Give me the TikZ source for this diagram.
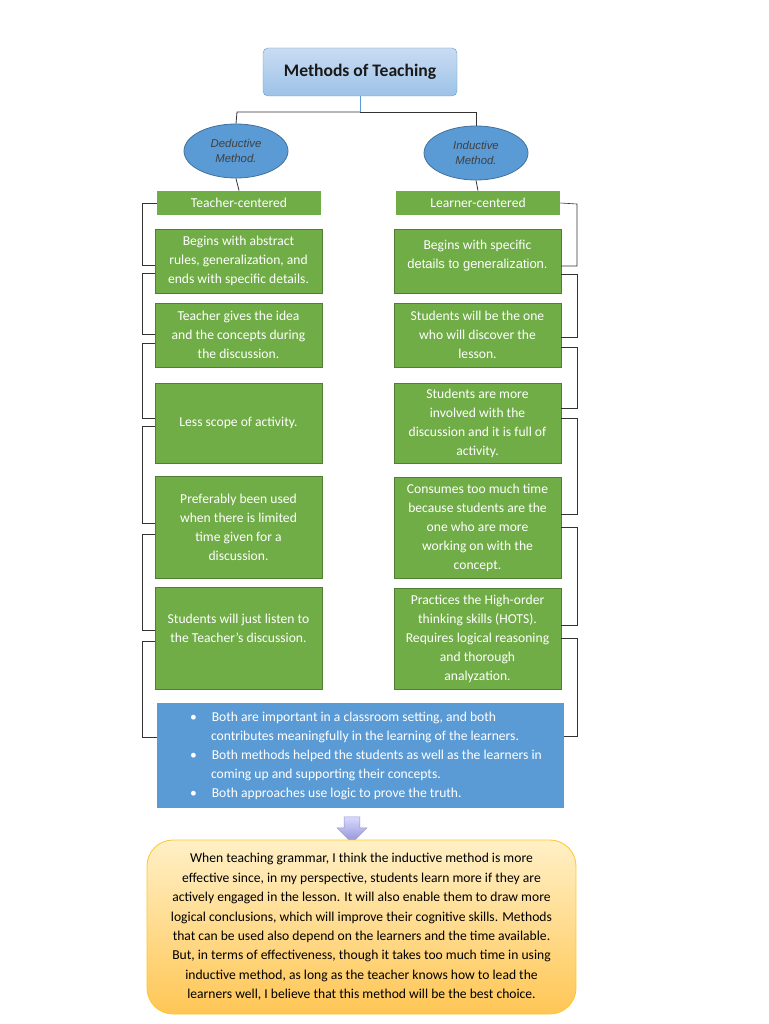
\documentclass[tikz,border=0pt]{standalone}
\usepackage{fontspec}
\setmainfont{Carlito}
\newfontfamily\arialf{Liberation Sans}
\usetikzlibrary{shapes.geometric,shapes.arrows}
\definecolor{gfill}{HTML}{70AD47}
\definecolor{gline}{HTML}{507E32}
\definecolor{bfill}{HTML}{5B9BD5}
\definecolor{bline}{HTML}{41719C}
\definecolor{ttop}{HTML}{CADCF2}
\definecolor{tbot}{HTML}{9CC2E7}
\definecolor{otop}{HTML}{FFF0C6}
\definecolor{obot}{HTML}{FFC655}
\definecolor{oline}{HTML}{FFC629}
\tikzset{
 gbox/.style={draw=gline,fill=gfill,line width=0.8pt,text=white,align=center,inner sep=0pt,minimum width=167pt,font=\fontsize{13.6}{19}\selectfont},
 meth/.style={ellipse,draw=bline,fill=bfill,line width=0.8pt,minimum width=104pt,minimum height=54pt,inner sep=0pt,align=center,text=black!75,font=\arialf\itshape\fontsize{11.4}{15}\selectfont},
 brk/.style={draw=black!80,line width=0.6pt},
}
\begin{document}
\begin{tikzpicture}[x=1pt,y=-1pt]
\useasboundingbox (0,0) rectangle (768,1024);
\fill[white] (0,0) rectangle (768,1024);
\node[draw=bfill,rounded corners=5pt,top color=ttop,bottom color=tbot,minimum width=194pt,minimum height=48pt,inner sep=0pt,font=\bfseries\fontsize{17.6}{18}\selectfont,text=black!90] (title) at (360,72) {Methods of Teaching};
\node[meth] (ded) at (236,151) {Deductive\\Method.};
\node[meth] (ind) at (476,153) {Inductive\\Method.};
\coordinate (hub) at (360,112);
\draw[bfill,line width=0.8pt] (title.south) -- (hub);
\draw[black!80,line width=0.8pt] (hub) -- (237,112) -- (ded.north);
\draw[black!80,line width=0.8pt] (hub) -- (476,112) -- (ind.north);
\node[gbox,minimum width=164pt,minimum height=24pt,draw=none] (tc) at (239,203) {Teacher-centered};
\node[gbox,minimum width=164pt,minimum height=24pt,draw=none] (lc) at (478,203) {Learner-centered};
\draw[black!80,line width=0.8pt] (ded.south) -- (tc.north);
\draw[black!80,line width=0.8pt] (ind.south) -- (lc.north);
% left
\node[gbox,minimum height=64pt] (l1) at (238.5,261) {Begins with abstract\\rules, generalization, and\\ends with specific details.};
\node[gbox,minimum height=64pt] (l2) at (238.5,335) {Teacher gives the idea\\and the concepts during\\the discussion.};
\node[gbox,minimum height=80pt] (l3) at (238.5,423) {Less scope of activity.};
\node[gbox,minimum height=102pt] (l4) at (238.5,527) {Preferably been used\\when there is limited\\time given for a\\discussion.};
\node[gbox,minimum height=102pt] (l5) at (238.5,638) {Students will just listen to\\the Teacher’s discussion.\\ \mbox{}};
% right
\node[gbox,minimum height=64pt] (r1) at (477.5,261) {Begins with specific\\{\arialf\fontsize{13}{18}\selectfont details to generalization.}\\[-6pt]\mbox{}};
\node[gbox,minimum height=64pt] (r2) at (477.5,335) {Students will be the one\\who will discover the\\lesson.};
\node[gbox,minimum height=80pt] (r3) at (477.5,423) {Students are more\\involved with the\\discussion and it is full of\\activity.};
\node[gbox,minimum height=101pt] (r4) at (477.5,527.5) {Consumes too much time\\because students are the\\one who are more\\working on with the\\concept.};
\node[gbox,minimum height=101pt] (r5) at (477.5,638.5) {Practices the High-order\\thinking skills (HOTS).\\Requires logical reasoning\\and thorough\\analyzation.};
% blue summary
\node[fill=bfill,minimum width=407pt,minimum height=105pt,inner sep=0pt,text=white,font=\fontsize{13.6}{19}\selectfont] (sum) at (360.5,755.5) {%
\begin{minipage}{374pt}
\begin{list}{\textbullet}{\leftmargin=37.5pt\labelwidth=6pt\labelsep=15pt\itemsep=0pt\parsep=0pt\topsep=0pt}
\item Both are important in a classroom setting, and both\\contributes meaningfully in the learning of the learners.
\item Both methods helped the students as well as the learners in\\coming up and supporting their concepts.
\item Both approaches use logic to prove the truth.
\end{list}
\end{minipage}};
\node[single arrow,shape border rotate=270,draw=blue!40!gray!60,top color=blue!15!white,bottom color=blue!45!gray!60,minimum width=30pt,single arrow head extend=2pt,minimum height=26pt,inner sep=2pt] (arr) at (352,826) {};
\node[draw=oline,line width=0.8pt,rounded corners=26pt,top color=otop,bottom color=obot,minimum width=429pt,minimum height=174pt,inner sep=0pt,align=center,font=\fontsize{13.6}{19.4}\selectfont] (conc) at (361.5,927) {When teaching grammar, I think the inductive method is more\\effective since, in my perspective, students learn more if they are\\actively engaged in the lesson. It will also enable them to draw more\\logical conclusions, which will improve their cognitive skills. Methods\\that can be used also depend on the learners and the time available.\\But, in terms of effectiveness, though it takes too much time in using\\inductive method, as long as the teacher knows how to lead the\\learners well, I believe that this method will be the best choice.};
% left brackets
\draw[brk] (tc.west) -- (142,203) -- (142,265) -- (l1.west |- 0,265);
\draw[brk] (l1.west |- 0,273) -- (142,273) -- (142,334) -- (l2.west |- 0,334);
\draw[brk] (l2.west |- 0,343) -- (142,343) -- (142,418) -- (l3.west |- 0,418);
\draw[brk] (l3.west |- 0,426) -- (142,426) -- (142,523) -- (l4.west |- 0,523);
\draw[brk] (l4.west |- 0,534) -- (142,534) -- (142,630) -- (l5.west |- 0,630);
\draw[brk] (l5.west |- 0,641) -- (142,641) -- (142,737) -- (sum.west |- 0,737);
% right brackets
\draw[brk] (lc.east) -- (577,204) -- (577,266) -- (r1.east |- 0,266);
\draw[brk] (r1.east |- 0,274) -- (577,274) -- (577,337) -- (r2.east |- 0,337);
\draw[brk] (r2.east |- 0,347) -- (577,347) -- (577,408) -- (r3.east |- 0,408);
\draw[brk] (r3.east |- 0,418) -- (577,418) -- (577,514) -- (r4.east |- 0,514);
\draw[brk] (r4.east |- 0,527) -- (577,527) -- (577,625) -- (r5.east |- 0,625);
\draw[brk] (r5.east |- 0,638) -- (577,638) -- (577,736) -- (sum.east |- 0,736);
\end{tikzpicture}
\end{document}
